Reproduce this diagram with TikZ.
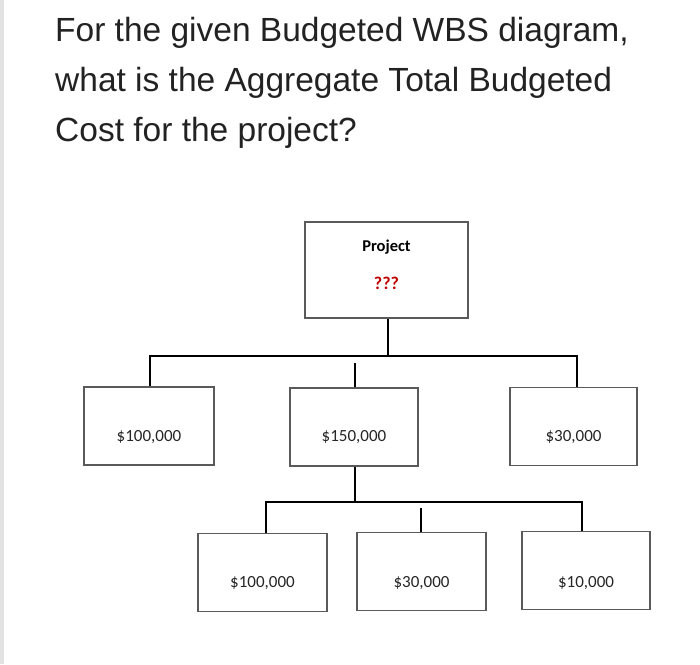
\documentclass[tikz,border=0pt]{standalone}
\usepackage{fontspec}
\setmainfont{Liberation Sans}
\newfontfamily\calibri{Carlito}
\definecolor{boxgray}{HTML}{5A5A5A}
\definecolor{qred}{HTML}{C00000}
\definecolor{titlecol}{HTML}{222222}
\definecolor{stripe}{HTML}{E2E2E2}
\begin{document}
\begin{tikzpicture}[x=1pt,y=-1pt,
  wbsbox/.style={draw=boxgray, line width=1.4pt, fill=white, inner sep=0pt},
  lvl/.style={wbsbox, minimum width=129pt, minimum height=78pt},
  val/.style={font=\calibri\fontsize{17}{20}\selectfont, text=black!85, inner sep=0pt},
  conn/.style={line width=2.6pt, black, line join=miter},
  ttl/.style={font=\fontsize{33.5}{38}\selectfont, text=titlecol, anchor=base west, inner sep=0pt}]
\useasboundingbox (0,0) rectangle (700,664);
\fill[stripe] (0,0) rectangle (4,664);
% title
\node[ttl] (t1) at (55,41) {For the given Budgeted WBS diagram,};
\node[ttl] (t2) at (55,91) {what is the Aggregate Total Budgeted};
\node[ttl] (t3) at (55,141) {Cost for the project?};
% project
\node[wbsbox, minimum width=163pt, minimum height=96pt] (proj) at (386.5,270) {};
\node[val, font=\calibri\bfseries\fontsize{16.5}{20}\selectfont, text=black] (ptxt) at (386.5,247) {Project};
\node[val, font=\calibri\bfseries\fontsize{18}{20}\selectfont, text=qred] (pq) at (386.5,283) {???};
% level 1
\node[lvl, minimum width=130pt] (a) at (149,426) {};
\node[lvl, minimum width=128pt] (b) at (354,427) {};
\node[lvl, minimum width=127pt] (c) at (573.5,426.5) {};
\node[val] (atxt) at (149,437) {\$100,000};
\node[val] (btxt) at (354,437) {\$150,000};
\node[val] (ctxt) at (573.5,437) {\$30,000};
% level 2
\node[lvl] (d) at (262.5,572.5) {};
\node[lvl] (e) at (421.5,571.5) {};
\node[lvl, minimum width=128pt] (f) at (586,570.5) {};
\node[val] (dtxt) at (262.5,583) {\$100,000};
\node[val] (etxt) at (421.5,583) {\$30,000};
\node[val] (ftxt) at (586,583) {\$10,000};
% connectors level 1
\coordinate (bar1) at (388,356);
\draw[conn] ([xshift=1.5pt]proj.south) -- (bar1);
\draw[conn] ([xshift=1pt]a.north) -- ([xshift=1pt]a.north |- bar1) -- ([xshift=3.5pt]c.north |- bar1) -- ([xshift=3.5pt]c.north);
\draw[conn] ([xshift=1pt]b.north) -- ++(0,-24);
% connectors level 2
\coordinate (bar2) at (355,502);
\draw[conn] ([xshift=1pt]b.south) -- (bar2);
\draw[conn] ([xshift=3.5pt]d.north) -- ([xshift=3.5pt]d.north |- bar2) -- ([xshift=-4pt]f.north |- bar2) -- ([xshift=-4pt]f.north);
\draw[conn] ([xshift=-0.5pt]e.north) -- ++(0,-24);
\end{tikzpicture}
\end{document}
